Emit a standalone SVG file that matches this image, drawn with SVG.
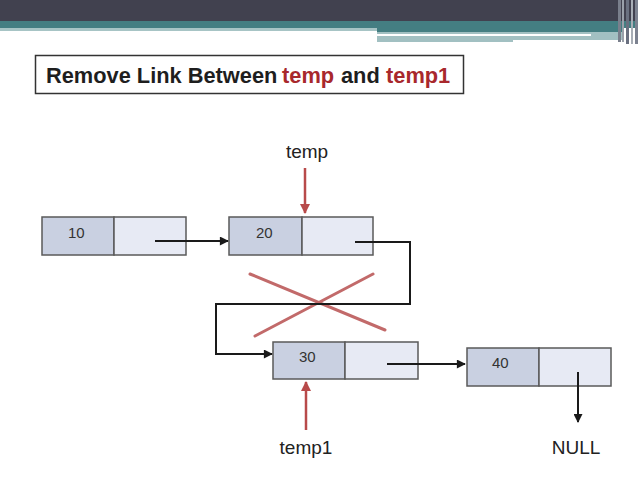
<svg xmlns="http://www.w3.org/2000/svg" width="638" height="479" viewBox="0 0 638 479">
<defs>
<style>
.left{fill:#c9d0e1;stroke:#5a5a5a;stroke-width:1.5}
.right{fill:#e7eaf4;stroke:#5a5a5a;stroke-width:1.5}
.val{font-family:"Liberation Sans",Arial,sans-serif;font-size:15px;fill:#333}
.lbl{font-family:"Liberation Sans",Arial,sans-serif;font-size:19px;fill:#222;text-anchor:middle}
.ttl{font-family:"Liberation Sans",Arial,sans-serif;font-size:21.8px;font-weight:bold;fill:#1e1e1e}
.ttr{fill:#a8282c}
.blk{fill:none;stroke:#1a1a1a;stroke-width:2}
.red{fill:none;stroke:#b84a4a;stroke-width:2.5}
.cross{stroke:#c26a6a;stroke-width:3;stroke-linecap:round}
</style>
<marker id="ab" viewBox="0 0 10 10" refX="9" refY="5" markerWidth="10" markerHeight="9" orient="auto" markerUnits="userSpaceOnUse"><path d="M0,0 L10,5 L0,10 z" fill="#1a1a1a"/></marker>
<marker id="ar" viewBox="0 0 10 10" refX="9" refY="5" markerWidth="4" markerHeight="4" orient="auto"><path d="M0,0 L10,5 L0,10 z" fill="#b84a4a"/></marker>
</defs>
<rect width="638" height="479" fill="#ffffff"/>
<g id="header">
<rect x="0" y="0" width="638" height="21" fill="#41414f"/>
<rect x="0" y="21" width="638" height="7" fill="#447e82"/>
<rect x="0" y="28" width="377" height="3" fill="#a7c4c5"/>
<rect x="377" y="28" width="245" height="4" fill="#447e82"/>
<rect x="377" y="32" width="245" height="10" fill="#a2c0c2"/>
<rect x="377" y="34" width="214" height="2" fill="#ffffff"/>
<rect x="513" y="40" width="110" height="3" fill="#ffffff"/>
<rect x="618" y="0" width="3" height="42" fill="#7a7f8c"/>
<rect x="622" y="0" width="2" height="42" fill="#9aa0aa"/>
<rect x="626" y="0" width="3" height="44" fill="#6a7080"/>
<rect x="631" y="0" width="2" height="44" fill="#a8aeb6"/>
<rect x="635" y="0" width="3" height="44" fill="#7c8290"/>
</g>
<g id="title">
<rect x="35.5" y="55.5" width="428" height="38" fill="#ffffff" stroke="#333" stroke-width="1.5"/>
<text class="ttl" x="46" y="83">Remove Link Between</text>
<text class="ttl ttr" x="282" y="83">temp</text>
<text class="ttl" x="341" y="83">and</text>
<text class="ttl ttr" x="386" y="83">temp1</text>
</g>
<g id="cross">
<line class="cross" x1="250" y1="274" x2="385" y2="330"/>
<line class="cross" x1="373" y1="274" x2="255" y2="336"/>
</g>
<g id="node10">
<rect class="left" x="42" y="217" width="72" height="38"/>
<rect class="right" x="114" y="217" width="72" height="38"/>
<text class="val" x="68" y="238">10</text>
</g>
<g id="node20">
<rect class="left" x="229" y="217" width="73" height="38"/>
<rect class="right" x="302" y="217" width="71" height="38"/>
<text class="val" x="256" y="238">20</text>
</g>
<g id="node30">
<rect class="left" x="273" y="342" width="72" height="37"/>
<rect class="right" x="345" y="342" width="73" height="37"/>
<text class="val" x="299" y="362">30</text>
</g>
<g id="node40">
<rect class="left" x="467" y="348" width="72" height="38"/>
<rect class="right" x="539" y="348" width="72" height="38"/>
<text class="val" x="492" y="368">40</text>
</g>
<g id="connectors">
<line class="blk" x1="155" y1="241" x2="228" y2="241" marker-end="url(#ab)"/>
<polyline class="blk" points="355,242 410,242 410,304 216,304 216,354 272,354" marker-end="url(#ab)"/>
<line class="blk" x1="387" y1="364" x2="465" y2="364" marker-end="url(#ab)"/>
<line class="blk" x1="578" y1="372" x2="578" y2="422" marker-end="url(#ab)"/>
<line class="red" x1="305" y1="168" x2="305" y2="213" marker-end="url(#ar)"/>
<line class="red" x1="306" y1="430" x2="306" y2="382" marker-end="url(#ar)"/>
</g>
<g id="labels">
<text class="lbl" x="307" y="158">temp</text>
<text class="lbl" x="306" y="454">temp1</text>
<text class="lbl" x="576" y="454">NULL</text>
</g>
</svg>
